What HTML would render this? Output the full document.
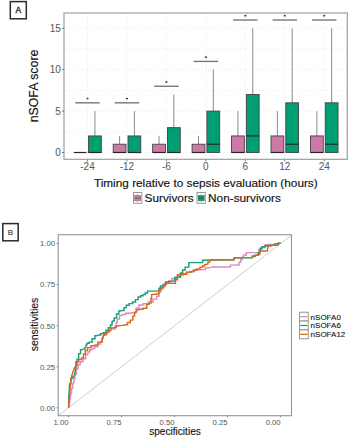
<!DOCTYPE html><html><head><meta charset="utf-8"><style>html,body{margin:0;padding:0;background:#fff;}svg{display:block;}text{font-family:"Liberation Sans",sans-serif;}</style></head><body>
<svg width="350" height="440" viewBox="0 0 350 440">
<rect x="0" y="0" width="350" height="440" fill="#fff"/>
<rect x="10.3" y="1.6" width="16" height="17.2" fill="none" stroke="#2a2a2a" stroke-width="1.5"/>
<text x="18.3" y="13.4" font-size="8.5" text-anchor="middle" fill="#222" stroke="#222" stroke-width="0.35">A</text>
<line x1="64" x2="347.3" y1="152.50" y2="152.50" stroke="#ececec" stroke-width="0.8" stroke-dasharray="1.4 1.8"/>
<line x1="64" x2="347.3" y1="131.80" y2="131.80" stroke="#ececec" stroke-width="0.8" stroke-dasharray="1.4 1.8"/>
<line x1="64" x2="347.3" y1="111.10" y2="111.10" stroke="#ececec" stroke-width="0.8" stroke-dasharray="1.4 1.8"/>
<line x1="64" x2="347.3" y1="90.40" y2="90.40" stroke="#ececec" stroke-width="0.8" stroke-dasharray="1.4 1.8"/>
<line x1="64" x2="347.3" y1="69.70" y2="69.70" stroke="#ececec" stroke-width="0.8" stroke-dasharray="1.4 1.8"/>
<line x1="64" x2="347.3" y1="49.00" y2="49.00" stroke="#ececec" stroke-width="0.8" stroke-dasharray="1.4 1.8"/>
<line x1="64" x2="347.3" y1="28.30" y2="28.30" stroke="#ececec" stroke-width="0.8" stroke-dasharray="1.4 1.8"/>
<line x1="87.50" x2="87.50" y1="13" y2="159.3" stroke="#ececec" stroke-width="0.8" stroke-dasharray="1.4 1.8"/>
<line x1="126.95" x2="126.95" y1="13" y2="159.3" stroke="#ececec" stroke-width="0.8" stroke-dasharray="1.4 1.8"/>
<line x1="166.40" x2="166.40" y1="13" y2="159.3" stroke="#ececec" stroke-width="0.8" stroke-dasharray="1.4 1.8"/>
<line x1="205.85" x2="205.85" y1="13" y2="159.3" stroke="#ececec" stroke-width="0.8" stroke-dasharray="1.4 1.8"/>
<line x1="245.30" x2="245.30" y1="13" y2="159.3" stroke="#ececec" stroke-width="0.8" stroke-dasharray="1.4 1.8"/>
<line x1="284.75" x2="284.75" y1="13" y2="159.3" stroke="#ececec" stroke-width="0.8" stroke-dasharray="1.4 1.8"/>
<line x1="324.20" x2="324.20" y1="13" y2="159.3" stroke="#ececec" stroke-width="0.8" stroke-dasharray="1.4 1.8"/>
<line x1="73.75" x2="86.55" y1="152.50" y2="152.50" stroke="#262626" stroke-width="1.2"/>
<line x1="94.95" x2="94.95" y1="135.94" y2="111.10" stroke="#8a8a8a" stroke-width="1"/>
<rect x="88.55" y="135.94" width="12.80" height="16.56" fill="#009E73" stroke="#444" stroke-width="0.9"/>
<line x1="88.55" x2="101.35" y1="152.50" y2="152.50" stroke="#262626" stroke-width="1.2"/>
<line x1="75.30" x2="99.70" y1="102.82" y2="102.82" stroke="#777" stroke-width="1.4"/>
<ellipse cx="87.50" cy="98.52" rx="1.1" ry="0.85" fill="#333"/>
<line x1="87.50" x2="87.50" y1="159.3" y2="161.3" stroke="#555" stroke-width="0.8"/>
<text x="87.50" y="170" font-size="10" text-anchor="middle" fill="#555">-24</text>
<line x1="119.60" x2="119.60" y1="144.22" y2="135.94" stroke="#8a8a8a" stroke-width="1"/>
<rect x="113.20" y="144.22" width="12.80" height="8.28" fill="#CC79A7" stroke="#444" stroke-width="0.9"/>
<line x1="113.20" x2="126.00" y1="152.50" y2="152.50" stroke="#262626" stroke-width="1.2"/>
<line x1="134.40" x2="134.40" y1="135.94" y2="111.10" stroke="#8a8a8a" stroke-width="1"/>
<rect x="128.00" y="135.94" width="12.80" height="16.56" fill="#009E73" stroke="#444" stroke-width="0.9"/>
<line x1="128.00" x2="140.80" y1="152.50" y2="152.50" stroke="#262626" stroke-width="1.2"/>
<line x1="114.75" x2="139.15" y1="102.82" y2="102.82" stroke="#777" stroke-width="1.4"/>
<ellipse cx="126.95" cy="98.52" rx="1.1" ry="0.85" fill="#333"/>
<line x1="126.95" x2="126.95" y1="159.3" y2="161.3" stroke="#555" stroke-width="0.8"/>
<text x="126.95" y="170" font-size="10" text-anchor="middle" fill="#555">-12</text>
<line x1="159.05" x2="159.05" y1="144.22" y2="135.94" stroke="#8a8a8a" stroke-width="1"/>
<rect x="152.65" y="144.22" width="12.80" height="8.28" fill="#CC79A7" stroke="#444" stroke-width="0.9"/>
<line x1="152.65" x2="165.45" y1="152.50" y2="152.50" stroke="#262626" stroke-width="1.2"/>
<line x1="173.85" x2="173.85" y1="127.66" y2="94.54" stroke="#8a8a8a" stroke-width="1"/>
<rect x="167.45" y="127.66" width="12.80" height="24.84" fill="#009E73" stroke="#444" stroke-width="0.9"/>
<line x1="167.45" x2="180.25" y1="152.50" y2="152.50" stroke="#262626" stroke-width="1.2"/>
<line x1="154.20" x2="178.60" y1="86.26" y2="86.26" stroke="#777" stroke-width="1.4"/>
<ellipse cx="166.40" cy="81.96" rx="1.1" ry="0.85" fill="#333"/>
<line x1="166.40" x2="166.40" y1="159.3" y2="161.3" stroke="#555" stroke-width="0.8"/>
<text x="166.40" y="170" font-size="10" text-anchor="middle" fill="#555">-6</text>
<line x1="198.50" x2="198.50" y1="144.22" y2="135.94" stroke="#8a8a8a" stroke-width="1"/>
<rect x="192.10" y="144.22" width="12.80" height="8.28" fill="#CC79A7" stroke="#444" stroke-width="0.9"/>
<line x1="192.10" x2="204.90" y1="152.50" y2="152.50" stroke="#262626" stroke-width="1.2"/>
<line x1="213.30" x2="213.30" y1="111.10" y2="69.70" stroke="#8a8a8a" stroke-width="1"/>
<rect x="206.90" y="111.10" width="12.80" height="41.40" fill="#009E73" stroke="#444" stroke-width="0.9"/>
<line x1="206.90" x2="219.70" y1="144.22" y2="144.22" stroke="#262626" stroke-width="1.2"/>
<line x1="193.65" x2="218.05" y1="61.42" y2="61.42" stroke="#777" stroke-width="1.4"/>
<ellipse cx="205.85" cy="57.12" rx="1.1" ry="0.85" fill="#333"/>
<line x1="205.85" x2="205.85" y1="159.3" y2="161.3" stroke="#555" stroke-width="0.8"/>
<text x="205.85" y="170" font-size="10" text-anchor="middle" fill="#555">0</text>
<line x1="237.95" x2="237.95" y1="135.94" y2="111.10" stroke="#8a8a8a" stroke-width="1"/>
<rect x="231.55" y="135.94" width="12.80" height="16.56" fill="#CC79A7" stroke="#444" stroke-width="0.9"/>
<line x1="231.55" x2="244.35" y1="152.50" y2="152.50" stroke="#262626" stroke-width="1.2"/>
<line x1="252.75" x2="252.75" y1="94.54" y2="28.30" stroke="#8a8a8a" stroke-width="1"/>
<rect x="246.35" y="94.54" width="12.80" height="57.96" fill="#009E73" stroke="#444" stroke-width="0.9"/>
<line x1="246.35" x2="259.15" y1="135.94" y2="135.94" stroke="#262626" stroke-width="1.2"/>
<line x1="233.10" x2="257.50" y1="20.02" y2="20.02" stroke="#777" stroke-width="1.4"/>
<ellipse cx="245.30" cy="15.72" rx="1.1" ry="0.85" fill="#333"/>
<line x1="245.30" x2="245.30" y1="159.3" y2="161.3" stroke="#555" stroke-width="0.8"/>
<text x="245.30" y="170" font-size="10" text-anchor="middle" fill="#555">6</text>
<line x1="277.40" x2="277.40" y1="135.94" y2="111.10" stroke="#8a8a8a" stroke-width="1"/>
<rect x="271.00" y="135.94" width="12.80" height="16.56" fill="#CC79A7" stroke="#444" stroke-width="0.9"/>
<line x1="271.00" x2="283.80" y1="152.50" y2="152.50" stroke="#262626" stroke-width="1.2"/>
<line x1="292.20" x2="292.20" y1="102.82" y2="28.30" stroke="#8a8a8a" stroke-width="1"/>
<rect x="285.80" y="102.82" width="12.80" height="49.68" fill="#009E73" stroke="#444" stroke-width="0.9"/>
<line x1="285.80" x2="298.60" y1="144.22" y2="144.22" stroke="#262626" stroke-width="1.2"/>
<line x1="272.55" x2="296.95" y1="20.02" y2="20.02" stroke="#777" stroke-width="1.4"/>
<ellipse cx="284.75" cy="15.72" rx="1.1" ry="0.85" fill="#333"/>
<line x1="284.75" x2="284.75" y1="159.3" y2="161.3" stroke="#555" stroke-width="0.8"/>
<text x="284.75" y="170" font-size="10" text-anchor="middle" fill="#555">12</text>
<line x1="316.85" x2="316.85" y1="135.94" y2="111.10" stroke="#8a8a8a" stroke-width="1"/>
<rect x="310.45" y="135.94" width="12.80" height="16.56" fill="#CC79A7" stroke="#444" stroke-width="0.9"/>
<line x1="310.45" x2="323.25" y1="152.50" y2="152.50" stroke="#262626" stroke-width="1.2"/>
<line x1="331.65" x2="331.65" y1="102.82" y2="28.30" stroke="#8a8a8a" stroke-width="1"/>
<rect x="325.25" y="102.82" width="12.80" height="49.68" fill="#009E73" stroke="#444" stroke-width="0.9"/>
<line x1="325.25" x2="338.05" y1="144.22" y2="144.22" stroke="#262626" stroke-width="1.2"/>
<line x1="312.00" x2="336.40" y1="20.02" y2="20.02" stroke="#777" stroke-width="1.4"/>
<ellipse cx="324.20" cy="15.72" rx="1.1" ry="0.85" fill="#333"/>
<line x1="324.20" x2="324.20" y1="159.3" y2="161.3" stroke="#555" stroke-width="0.8"/>
<text x="324.20" y="170" font-size="10" text-anchor="middle" fill="#555">24</text>
<rect x="64" y="13" width="283.3" height="146.3" fill="none" stroke="#9a9a9a" stroke-width="1.15"/>
<line x1="62" x2="64" y1="152.50" y2="152.50" stroke="#555" stroke-width="0.8"/>
<text x="60.8" y="156.10" font-size="10" text-anchor="end" fill="#555">0</text>
<line x1="62" x2="64" y1="111.10" y2="111.10" stroke="#555" stroke-width="0.8"/>
<text x="60.8" y="114.70" font-size="10" text-anchor="end" fill="#555">5</text>
<line x1="62" x2="64" y1="69.70" y2="69.70" stroke="#555" stroke-width="0.8"/>
<text x="60.8" y="73.30" font-size="10" text-anchor="end" fill="#555">10</text>
<line x1="62" x2="64" y1="28.30" y2="28.30" stroke="#555" stroke-width="0.8"/>
<text x="60.8" y="31.90" font-size="10" text-anchor="end" fill="#555">15</text>
<text x="0" y="0" font-size="12.35" text-anchor="middle" fill="#111" stroke="#111" stroke-width="0.15" transform="translate(37.7,86) rotate(-90)">nSOFA score</text>
<text x="205.8" y="187" font-size="11.8" text-anchor="middle" fill="#111" stroke="#111" stroke-width="0.15">Timing relative to sepsis evaluation (hours)</text>
<rect x="133.5" y="192.5" width="8.3" height="10.8" fill="#fff" stroke="#999" stroke-width="1"/>
<line x1="137.65" x2="137.65" y1="193" y2="203" stroke="#bbb" stroke-width="0.7"/>
<rect x="134.6" y="195.2" width="6.1" height="5.7" fill="#CC79A7" stroke="#666" stroke-width="0.4"/>
<line x1="134.6" x2="140.7" y1="198" y2="198" stroke="#444" stroke-width="0.6"/>
<text x="144.6" y="202.2" font-size="11.8" fill="#111" stroke="#111" stroke-width="0.15">Survivors</text>
<rect x="197.0" y="192.5" width="8.3" height="10.8" fill="#fff" stroke="#999" stroke-width="1"/>
<line x1="201.15" x2="201.15" y1="193" y2="203" stroke="#bbb" stroke-width="0.7"/>
<rect x="198.1" y="195.2" width="6.1" height="5.7" fill="#009E73" stroke="#666" stroke-width="0.4"/>
<line x1="198.1" x2="204.2" y1="198" y2="198" stroke="#444" stroke-width="0.6"/>
<text x="208.1" y="202.2" font-size="11.8" fill="#111" stroke="#111" stroke-width="0.15">Non-survivors</text>
<rect x="2.8" y="223.6" width="15.4" height="17.2" fill="none" stroke="#2a2a2a" stroke-width="1.5"/>
<text x="10.5" y="235" font-size="8" text-anchor="middle" fill="#222">B</text>
<line x1="58.20" y1="415.77" x2="291.50" y2="235.16" stroke="#c8c8c8" stroke-width="0.9"/>
<polyline fill="none" stroke="#D98BC4" stroke-width="1.45" stroke-linejoin="miter" points="68.60,407.70 70.00,400.00 71.10,392.70 71.55,392.70 71.55,388.20 72.00,388.20 72.70,388.20 72.70,383.60 73.40,383.60 74.30,379.10 74.85,379.10 74.85,374.60 75.40,374.60 76.25,374.60 76.25,369.00 77.10,369.00 78.00,369.00 78.00,364.70 78.90,364.70 80.15,364.70 80.15,361.70 81.40,361.70 82.90,361.70 82.90,358.70 84.40,358.70 85.70,358.70 85.70,354.40 87.00,354.40 87.85,354.40 87.85,351.90 88.70,351.90 89.80,351.90 89.80,349.70 90.90,349.70 92.15,349.70 92.15,348.40 93.40,348.40 94.70,348.40 94.70,346.70 96.00,346.70 97.85,346.70 97.85,343.90 99.70,343.90 100.55,343.90 100.55,342.10 101.40,342.10 102.00,342.10 102.00,338.10 102.60,338.10 103.10,335.30 104.90,334.70 106.45,334.70 106.45,331.50 108.00,331.50 109.45,331.50 109.45,328.90 110.90,328.90 113.70,329.00 114.85,329.00 114.85,326.40 116.00,326.40 116.60,321.90 117.45,321.90 117.45,319.00 118.30,319.00 119.45,319.00 119.45,315.60 120.60,315.60 122.30,315.60 122.30,314.40 124.00,314.40 125.70,314.40 125.70,313.30 127.40,313.30 134.30,312.70 136.00,312.70 136.00,308.20 137.70,308.20 138.90,308.20 138.90,304.90 140.10,304.90 143.00,304.90 143.00,303.70 145.90,303.70 148.45,303.70 148.45,302.00 151.00,302.00 153.00,302.00 153.00,299.10 155.00,299.10 156.70,299.10 156.70,296.30 158.40,296.30 159.00,296.30 159.00,292.30 159.60,292.30 160.75,292.30 160.75,288.90 161.90,288.90 162.75,288.90 162.75,286.60 163.60,286.60 165.30,286.60 165.30,282.60 167.00,282.60 168.70,282.60 168.70,280.60 170.40,280.60 171.90,280.60 171.90,278.60 173.40,278.60 175.15,278.60 175.15,276.90 176.90,276.90 179.15,276.90 179.15,275.10 181.40,275.10 183.15,275.10 183.15,273.40 184.90,273.40 186.90,273.40 186.90,272.30 188.90,272.30 190.90,272.30 190.90,271.10 192.90,271.10 195.15,271.10 195.15,270.00 197.40,270.00 203.10,269.60 205.20,269.60 205.20,268.00 207.30,268.00 210.70,267.40 211.90,266.90 229.60,266.90 230.45,266.90 230.45,265.10 231.30,265.10 238.10,264.90 239.00,264.90 239.00,262.30 239.90,262.30 240.75,262.30 240.75,259.40 241.60,259.40 242.15,259.40 242.15,257.10 242.70,257.10 243.55,257.10 243.55,255.00 244.40,255.00 246.30,255.00 246.30,252.60 248.20,252.60 257.80,252.60 258.80,252.60 258.80,249.80 259.80,249.80 261.90,249.80 261.90,247.40 264.00,247.40 265.35,247.40 265.35,244.60 266.70,244.60 273.50,244.10 280.60,243.20"/>
<polyline fill="none" stroke="#1B9E77" stroke-width="1.45" stroke-linejoin="miter" points="68.60,407.70 68.80,396.40 69.70,383.60 70.85,383.60 70.85,378.20 72.00,378.20 72.90,378.20 72.90,376.40 73.80,376.40 74.60,375.00 75.40,370.00 76.30,364.70 76.95,364.70 76.95,359.10 77.60,359.10 78.65,359.10 78.65,353.60 79.70,353.60 80.55,353.60 80.55,349.70 81.40,349.70 84.40,348.90 85.05,348.90 85.05,347.60 85.70,347.60 86.10,345.00 86.90,345.00 86.90,343.30 87.70,343.30 89.15,343.30 89.15,342.10 90.60,342.10 92.15,342.10 92.15,338.70 93.70,338.70 95.00,338.70 95.00,335.70 96.30,335.70 99.70,334.90 100.55,334.90 100.55,333.60 101.40,333.60 103.15,333.60 103.15,332.70 104.90,332.70 105.95,332.70 105.95,330.10 107.00,330.10 108.30,330.10 108.30,327.60 109.60,327.60 110.45,327.60 110.45,325.00 111.30,325.00 111.95,325.00 111.95,322.00 112.60,322.00 113.10,320.70 114.25,320.70 114.25,317.90 115.40,317.90 116.55,317.90 116.55,313.90 117.70,313.90 118.85,313.90 118.85,311.00 120.00,311.00 122.90,310.40 124.00,310.40 124.00,307.60 125.10,307.60 126.25,307.60 126.25,305.30 127.40,305.30 129.15,305.30 129.15,303.60 130.90,303.60 132.60,303.60 132.60,301.90 134.30,301.90 135.45,301.90 135.45,299.60 136.60,299.60 138.10,299.60 138.10,296.90 139.60,296.90 140.75,296.90 140.75,295.70 141.90,295.70 143.00,295.70 143.00,294.60 144.10,294.60 145.25,294.60 145.25,292.90 146.40,292.90 147.55,292.90 147.55,291.10 148.70,291.10 158.40,291.10 159.00,291.10 159.00,288.30 159.60,288.30 160.45,288.30 160.45,286.00 161.30,286.00 163.00,286.00 163.00,284.90 164.70,284.90 165.55,284.90 165.55,282.00 166.40,282.00 171.60,281.40 174.00,280.90 174.55,280.90 174.55,278.00 175.10,278.00 177.40,278.00 177.40,276.90 179.70,276.90 180.55,276.90 180.55,272.90 181.40,272.90 182.55,272.90 182.55,270.00 183.70,270.00 185.15,270.00 185.15,267.10 186.60,267.10 188.85,267.10 188.85,262.60 191.10,262.60 202.00,262.60 202.55,262.60 202.55,260.30 203.10,260.30 210.70,260.00 233.60,259.70 234.15,259.70 234.15,257.70 234.70,257.70 251.60,257.80 252.30,257.80 252.30,256.40 253.00,256.40 255.05,256.40 255.05,255.30 257.10,255.30 258.10,255.30 258.10,252.60 259.10,252.60 260.15,252.60 260.15,248.20 261.20,248.20 261.90,248.20 261.90,246.80 262.60,246.80 265.00,246.80 265.00,245.70 267.40,245.70 277.00,245.00 278.00,245.00 278.00,243.20 279.00,243.20 280.60,243.20"/>
<polyline fill="none" stroke="#D4691A" stroke-width="1.45" stroke-linejoin="miter" points="68.60,407.70 68.80,401.80 69.30,396.40 70.00,390.00 70.60,383.60 71.10,379.10 71.80,375.50 72.00,375.00 74.60,367.30 75.85,367.30 75.85,361.70 77.10,361.70 78.60,361.70 78.60,359.60 80.10,359.60 81.40,359.60 81.40,357.90 82.70,357.90 83.55,357.90 83.55,354.00 84.40,354.00 85.25,354.00 85.25,350.60 86.10,350.60 87.60,350.60 87.60,347.60 89.10,347.60 90.85,347.60 90.85,345.90 92.60,345.90 96.00,345.00 97.85,345.00 97.85,342.10 99.70,342.10 101.40,341.70 102.05,341.70 102.05,338.70 102.70,338.70 103.60,335.30 104.65,335.30 104.65,334.00 105.70,334.00 106.80,334.00 106.80,331.90 107.90,331.90 108.95,331.90 108.95,330.60 110.00,330.60 110.85,330.60 110.85,328.00 111.70,328.00 114.70,327.60 116.20,327.60 116.20,325.90 117.70,325.90 122.00,325.40 126.30,324.70 127.45,324.70 127.45,322.40 128.60,322.40 130.30,322.40 130.30,320.10 132.00,320.10 132.85,320.10 132.85,316.10 133.70,316.10 134.55,316.10 134.55,312.10 135.40,312.10 136.55,312.10 136.55,309.90 137.70,309.90 140.00,309.30 142.95,309.30 142.95,308.30 145.90,308.30 146.75,308.30 146.75,304.30 147.60,304.30 149.00,304.30 149.00,303.10 150.40,303.10 151.00,303.10 151.00,298.60 151.60,298.60 151.60,294.60 157.90,294.00 158.75,294.00 158.75,290.00 159.60,290.00 161.00,290.00 161.00,287.70 162.40,287.70 163.55,287.70 163.55,284.30 164.70,284.30 166.15,284.30 166.15,283.30 167.60,283.30 174.60,283.40 175.45,283.40 175.45,279.70 176.30,279.70 177.45,279.70 177.45,274.60 178.60,274.60 181.40,274.00 184.90,274.30 186.60,274.30 186.60,272.30 188.30,272.30 192.30,271.70 193.45,271.70 193.45,270.00 194.60,270.00 196.60,270.00 196.60,268.90 198.60,268.90 200.00,268.90 200.00,267.10 201.40,267.10 202.55,267.10 202.55,266.00 203.70,266.00 204.55,266.00 204.55,264.60 205.40,264.60 207.30,264.00 207.85,264.00 207.85,262.30 208.40,262.30 209.55,262.30 209.55,260.60 210.70,260.60 211.30,259.70 233.60,259.70 234.15,259.70 234.15,257.70 234.70,257.70 251.60,257.40 252.30,257.40 252.30,256.00 253.00,256.00 259.10,254.60 259.80,254.60 259.80,250.90 260.50,250.90 267.40,250.90 268.10,246.40 274.20,245.00 275.25,245.00 275.25,243.70 276.30,243.70 280.60,243.20"/>
<rect x="58.2" y="234.7" width="233.3" height="181.0" fill="none" stroke="#9a9a9a" stroke-width="1.15"/>
<line x1="56.7" x2="58.2" y1="407.80" y2="407.80" stroke="#555" stroke-width="0.7"/>
<text x="55" y="410.60" font-size="7.7" text-anchor="end" fill="#555">0.00</text>
<line x1="56.7" x2="58.2" y1="366.75" y2="366.75" stroke="#555" stroke-width="0.7"/>
<text x="55" y="369.55" font-size="7.7" text-anchor="end" fill="#555">0.25</text>
<line x1="56.7" x2="58.2" y1="325.70" y2="325.70" stroke="#555" stroke-width="0.7"/>
<text x="55" y="328.50" font-size="7.7" text-anchor="end" fill="#555">0.50</text>
<line x1="56.7" x2="58.2" y1="284.65" y2="284.65" stroke="#555" stroke-width="0.7"/>
<text x="55" y="287.45" font-size="7.7" text-anchor="end" fill="#555">0.75</text>
<line x1="56.7" x2="58.2" y1="243.60" y2="243.60" stroke="#555" stroke-width="0.7"/>
<text x="55" y="246.40" font-size="7.7" text-anchor="end" fill="#555">1.00</text>
<line x1="68.50" x2="68.50" y1="415.7" y2="417.2" stroke="#555" stroke-width="0.7"/>
<text x="68.50" y="424.5" font-size="7.7" text-anchor="end" fill="#555">1.00</text>
<line x1="121.53" x2="121.53" y1="415.7" y2="417.2" stroke="#555" stroke-width="0.7"/>
<text x="121.53" y="424.5" font-size="7.7" text-anchor="end" fill="#555">0.75</text>
<line x1="174.55" x2="174.55" y1="415.7" y2="417.2" stroke="#555" stroke-width="0.7"/>
<text x="174.55" y="424.5" font-size="7.7" text-anchor="end" fill="#555">0.50</text>
<line x1="227.57" x2="227.57" y1="415.7" y2="417.2" stroke="#555" stroke-width="0.7"/>
<text x="227.57" y="424.5" font-size="7.7" text-anchor="end" fill="#555">0.25</text>
<line x1="280.60" x2="280.60" y1="415.7" y2="417.2" stroke="#555" stroke-width="0.7"/>
<text x="280.60" y="424.5" font-size="7.7" text-anchor="end" fill="#555">0.00</text>
<text x="175" y="435" font-size="10.1" text-anchor="middle" fill="#111" stroke="#111" stroke-width="0.12">specificities</text>
<text x="0" y="0" font-size="10.5" text-anchor="middle" fill="#111" stroke="#111" stroke-width="0.12" transform="translate(38.2,324.5) rotate(-90)">sensitivities</text>
<rect x="299.6" y="312.20" width="8.6" height="8.85" fill="#fff" stroke="#888" stroke-width="0.9"/>
<line x1="300.4" x2="307.4" y1="316.65" y2="316.65" stroke="#D98BC4" stroke-width="1.3"/>
<text x="310.6" y="319.50" font-size="8" fill="#111" stroke="#111" stroke-width="0.1">nSOFA0</text>
<rect x="299.6" y="321.05" width="8.6" height="8.85" fill="#fff" stroke="#888" stroke-width="0.9"/>
<line x1="300.4" x2="307.4" y1="325.50" y2="325.50" stroke="#1B9E77" stroke-width="1.3"/>
<text x="310.6" y="328.35" font-size="8" fill="#111" stroke="#111" stroke-width="0.1">nSOFA6</text>
<rect x="299.6" y="329.90" width="8.6" height="8.85" fill="#fff" stroke="#888" stroke-width="0.9"/>
<line x1="300.4" x2="307.4" y1="334.35" y2="334.35" stroke="#D4691A" stroke-width="1.3"/>
<text x="310.6" y="337.20" font-size="8" fill="#111" stroke="#111" stroke-width="0.1">nSOFA12</text>
</svg></body></html>
